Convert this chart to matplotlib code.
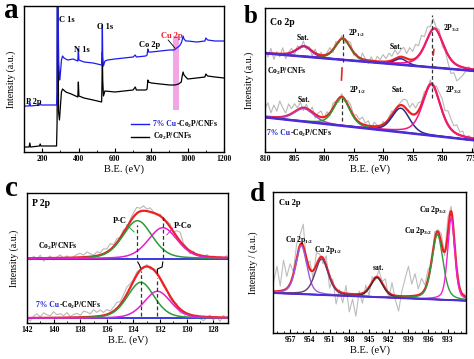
import numpy as np
import matplotlib.pyplot as plt

plt.rcParams['font.family'] = 'Liberation Serif'
plt.rcParams['font.weight'] = 'bold'
plt.rcParams['mathtext.fontset'] = 'custom'
plt.rcParams['mathtext.rm'] = 'Liberation Serif:bold'
plt.rcParams['mathtext.it'] = 'Liberation Serif:italic:bold'
plt.rcParams['mathtext.bf'] = 'Liberation Serif:bold'
plt.rcParams['axes.linewidth'] = 1.0

# ---------------- data ----------------
# (a) survey spectra, binding energy (eV) / intensity (a.u.)
blue_x = [100, 128, 132, 136, 185, 189, 193, 279, 282, 284, 287, 291, 296, 300, 306, 312, 320, 340,
          370, 396, 399, 402, 430, 480, 527, 529, 531, 533, 537, 545, 560, 600, 650, 700, 712, 718,
          770, 777, 781, 785, 800, 850, 900, 925, 940, 955, 965, 970, 975, 980, 990, 1000, 1050,
          1095, 1100, 1110, 1150, 1200]
blue_y = [46, 46, 50, 46, 47, 49, 47, 47, 60, 220, 150, 90, 72, 78, 92, 96, 94, 92,
          93, 91, 103, 92, 90, 89, 87, 100, 127, 95, 86, 91, 92, 93, 94, 95, 97, 95,
          96, 97, 103, 100, 100, 101, 102, 102, 104, 106, 109, 112, 116, 113, 111, 111, 110,
          111, 114, 112, 111, 111]
black_x = [100, 128, 132, 136, 185, 189, 193, 279, 282, 284, 287, 290, 295, 300, 306, 312, 330, 360,
           396, 399, 402, 430, 480, 527, 529, 531, 533, 537, 545, 600, 650, 700, 712, 718, 770,
           777, 781, 785, 800, 850, 900, 930, 950, 965, 970, 975, 980, 990, 1000, 1050, 1095,
           1100, 1110, 1150, 1200]
black_y = [5, 5, 9, 5, 6, 8, 6, 6, 30, 220, 150, 40, 32, 45, 60, 63, 60, 58,
           55, 70, 56, 54, 52, 50, 70, 100, 72, 56, 61, 60, 61, 62, 65, 62, 62,
           63, 72, 70, 69, 68, 67, 67, 68, 70, 76, 80, 77, 75, 73, 74, 75,
           78, 76, 75, 74]

# (b) Co 2p: [centre, height, fwhm, lorentz fraction]
co_top_base = [98.7, 81.3]
co_top_peaks = [[803.4, 10, 3.0, 0.4], [796.8, 21, 3.0, 0.4], [787.0, 6, 2.5, 0.3], [781.3, 39, 3.6, 0.5]]
co_bot_base = [34.7, 12.0]
co_bot_peaks = [[803.4, 13, 4.0, 0.4], [797.0, 28, 3.2, 0.4], [787.0, 24, 3.5, 0.3], [781.8, 51, 3.6, 0.5]]
co_colors = [['#c0189e', '#6b6b1e', '#2a2a8c', '#f0168a'], ['#b040c8', '#2f9a2f', '#2a2a8c', '#f0168a']]
co_top_dev = [3, -4, 5, -6, 2, -3, 6, -5, 1, 4, -4, 3, -2, 5, -3, 2, -5, 4, -2, 3, -4, 2, 5, -3,
              4, -2, 3, -4, 2, 5, -3, 2, -4, 6, 1, -3, 4, -2, 5, 2, 7, 3, 8, 4, 9, 3, 7, 10,
              5, 12, 8, 14, 10, 16, 9, 12, 6, 10, 2, 5, -4, -2, -8, -14, -10, -16, -12, -8, -3, 2, -2]
co_bot_dev = [8, 14, 4, 12, 6, 16, 9, 3, 11, 5, 8, 2, 6, -3, 4, -2, 5, -4, 3, 6, -1, 4, -3, 5,
              2, -4, 3, -2, 4, 6, 1, 5, 3, 7, 2, 5, -2, 4, 1, -3, 3, -2, 2, 4, -3, 1, 3, 7,
              9, 5, 11, 6, 8, 3, 5, -2, 4, -3, 6, 9, 12, 8, 14, 10, 6, 9, 3, 5, -4, 2, -1]

# (c) P 2p
p_top_base = 64.3
p_top_peaks = [[133.7, 38, 2.6, 0.3], [131.8, 31, 2.6, 0.3]]
p_bot_base = 4.7
p_bot_peaks = [[133.45, 36, 2.4, 0.3], [132.2, 27, 2.4, 0.3]]
p_colors = ['#2e9a3a', '#e020d0']
p_top_dev = [1, -2, 2, -1, 3, -3, 0, 2, -2, 1, 3, -1, 2, -2, 1, 3, 4, 2, 5, 3, 1, 4, 2, 5, 3, 6,
             2, 4, 1, 3, -1, 2, 4, 6, 3, 5, 2, 4, 1, -1, 2, -2, 1, 3, -1, 6, 9, 2, 1, -3, 2, -1,
             1, -2, 2, -1, 1, -2, 1, -1, 2]
p_bot_dev = [0, -3, 2, 4, 1, 5, 3, 2, 6, 3, 4, 2, 5, 1, 3, 4, 2, 6, 5, 3, 7, 4, 6, 3, 5, 2, 4,
             6, 3, 5, 7, 4, 2, 3, 1, -1, 2, -2, 1, 3, -1, -2, 1, -3, -1, 2, -4, -2, -5, -1, -3,
             1, -2, -4, -1, 2, -3, 1, -4, 2, -1]

# (d) Cu 2p
cu_base = [40.0, 32.3]
cu_peaks = [[955.3, 48.5, 2.0, 0.4], [952.2, 36, 2.4, 0.4], [943.8, 19.5, 2.2, 0.4],
            [934.6, 65, 2.0, 0.4], [932.5, 82, 1.3, 0.4]]
cu_colors = ['#9a5ae0', '#6a3a70', '#4a2a2a', '#2e9a3a', '#f020d8']
cu_dev = [10, 25, 5, 30, 12, 20, 2, 15, 10, 22, -5, 8, -8, 12, 4, -6, 10, -12, 5, -15, 2, -10,
          8, -18, -5, -22, 3, -10, 6, -8, 5, -3, 8, 2, 10, -6, 12, -4, -15, 5, 18, 30, 12, 22,
          6, 15, 4, 10, -5, 8, 2, 10, -4, 15, 5, -8, 6, -4, 2]

W, H = 474, 359
fig = plt.figure(figsize=(W / 100, H / 100), dpi=100)


def box(l, t, r, b):
    return [l / W, 1 - b / H, (r - l) / W, (b - t) / H]


def peak(x, c, h, w, eta):
    u = (x - c) / w
    return h * ((1 - eta) * np.exp(-4 * np.log(2) * u ** 2) + eta / (1 + 4 * u ** 2))


def lin(x, x0, x1, ends):
    return ends[0] + (ends[1] - ends[0]) * (x - x0) / (x1 - x0)


def style(ax, xlim, ylim, major, minor, ylabel, ylx):
    ax.set_xlim(*xlim)
    ax.set_ylim(*ylim)
    ax.set_yticks([])
    ax.set_xticks(major)
    ax.set_xticks(minor, minor=True)
    ax.tick_params(axis='x', which='major', direction='in', length=3, width=0.8, labelsize=5.5, pad=2)
    ax.tick_params(axis='x', which='minor', direction='in', length=1.5, width=0.6)
    ax.set_xlabel('B.E. (eV)', fontsize=7.5, labelpad=1)
    ax.set_ylabel(ylabel, fontsize=7)
    ax.yaxis.set_label_coords(ylx, 0.5)


def cu_label(ax, x, y, size=5.5):
    t = ax.text(x, y, '7% Cu', color='#2323d8', fontsize=size, va='baseline')
    ax.annotate('-Co$_{2}$P/CNFs', xy=(1, 0), xycoords=t, xytext=(0, 0.22 * size),
                textcoords='offset points', fontsize=size, va='baseline')


# ---------------- (a) ----------------
ax = fig.add_axes(box(24, 6, 224, 152))
ax.fill_between([917, 952], 42, 116, color='#f2a6e6', lw=0)
ax.plot(black_x, black_y, color='black', lw=0.9)
ax.plot(blue_x, blue_y, color='#1c1cf0', lw=0.9)
style(ax, (100, 1200), (0, 146), range(200, 1201, 200), range(100, 1201, 100),
      'Intensity (a.u.)', -0.04)
for s, x, y in [('C 1s', 290, 132), ('N 1s', 375, 102), ('O 1s', 500, 125),
                ('P 2p', 110, 50), ('Co 2p', 735, 107)]:
    ax.text(x, y, s, fontsize=6, va='center')
ax.text(855, 112, 'Cu 2p', fontsize=6, color='#e8202a', va='bottom')
ax.plot([893, 930], [112, 104], color='black', lw=0.6)
ax.plot([690, 790], [28, 28], color='#1c1cf0', lw=1)
ax.plot([690, 790], [15, 15], color='black', lw=1)
cu_label(ax, 808, 26, 5.5)
ax.text(808, 13, 'Co$_{2}$P/CNFs', fontsize=5.5, va='baseline')

# ---------------- (b) ----------------
ax = fig.add_axes(box(265, 8, 474, 152))
xb = np.linspace(810, 774.6, 700)
spec = [(co_top_base, co_top_peaks, co_top_dev, co_colors[0]),
        (co_bot_base, co_bot_peaks, co_bot_dev, co_colors[1])]
for base, peaks, dev, cols in spec:
    xg = np.linspace(810, 775, len(dev))
    yg = lin(xg, 810, 775, base) + sum(peak(xg, *p) for p in peaks) + np.array(dev)
    ax.plot(xg, yg, color='#b8b8b8', lw=0.8)
    bl = lin(xb, 810, 775, base)
    ax.plot(xb, bl + sum(peak(xb, *p) for p in peaks), color='#ee2020', lw=1.6)
    for p, c in zip(peaks, cols):
        ax.plot(xb, bl + peak(xb, *p), color=c, lw=1.1)
    ax.plot(xb, bl, color='#4a2cd8', lw=1.8)
ax.plot([796.8, 796.8], [90, 118], color='#333333', lw=0.9, ls=(0, (3, 2)))
ax.plot([797.0, 797.0], [31, 55], color='#333333', lw=0.9, ls=(0, (3, 2)))
ax.plot([796.95, 797.05], [84, 72], color='#ee2020', lw=1.2)
ax.plot([781.7, 781.7], [54, 137], color='#333333', lw=0.9, ls=(0, (3, 2)))
ax.plot([781.4, 781.5], [102.5, 97], color='#ee2020', lw=1.2)
style(ax, (810, 774.6), (0, 144), range(810, 774, -5), [], 'Intensity (a.u.)', -0.054)
ax.text(809.2, 130, 'Co 2p', fontsize=7, va='center')
for s, x, y in [('Sat.', 803.5, 114), ('Sat.', 787.8, 105), ('Sat.', 803.4, 52), ('Sat.', 787.5, 62)]:
    ax.text(x, y, s, fontsize=5.5, ha='center', va='center')
for x, y in [(796.0, 119), (779.9, 124), (795.8, 62), (779.5, 62)]:
    ax.text(x, y, '2P$_{1/2}$' if x > 790 else '2P$_{3/2}$', fontsize=5.5, va='center')
ax.text(809.7, 78, 'Co$_{2}$P/CNFs', fontsize=5.5, va='baseline')
cu_label(ax, 809.7, 17, 5.5)

# ---------------- (c) ----------------
ax = fig.add_axes(box(27, 193, 228, 323))
xc = np.linspace(142, 126.9, 600)
for base, peaks, dev in [(p_top_base, p_top_peaks, p_top_dev), (p_bot_base, p_bot_peaks, p_bot_dev)]:
    xg = np.linspace(142, 127, len(dev))
    yg = base + sum(peak(xg, *p) for p in peaks) + np.array(dev)
    ax.plot(xg, yg, color='#b8b8b8', lw=0.8)
    ax.plot(xc, np.full_like(xc, base), color='#3a3ae0', lw=1.4)
    ax.plot(xc, base + sum(peak(xc, *p) for p in peaks), color='#ee2020', lw=1.6)
    for p, c in zip(peaks, p_colors):
        ax.plot(xc, base + peak(xc, *p), color=c, lw=1.1)
for x, y0, y1 in [(133.7, 65, 98), (131.8, 65, 106), (133.45, 7, 52), (132.2, 7, 45)]:
    ax.plot([x, x], [y0, y1], color='#333333', lw=0.9, ls=(0, (3, 2)))
ax.plot([133.68, 133.55, 133.47], [61, 58, 55], color='black', lw=0.8)
ax.plot([131.8, 131.85, 132.2, 132.2], [61, 56, 54, 50], color='black', lw=0.8)
style(ax, (142, 126.9), (0, 130), range(142, 127, -2), range(141, 127, -2),
      'Intensity (a.u.)', -0.041)
ax.text(141.6, 120, 'P 2p', fontsize=7, va='center')
ax.text(135.0, 102, 'P-C', fontsize=6, ha='center', va='center')
ax.plot([134.5, 133.95], [98, 91], color='#2e9a3a', lw=0.7)
ax.text(131.0, 97, 'P-Co', fontsize=6, va='center')
ax.plot([131.05, 131.5], [95, 88], color='#e020d0', lw=0.7)
ax.text(141.2, 74, 'Co$_{2}$P/CNFs', fontsize=5.5, va='baseline')
cu_label(ax, 141.3, 16, 5.5)

# ---------------- (d) ----------------
ax = fig.add_axes(box(273, 192, 466, 333))
xd = np.linspace(959.6, 930.25, 700)
xg = np.linspace(959.5, 930.5, len(cu_dev))
yg = lin(xg, 959.6, 930.25, cu_base) + sum(peak(xg, *p) for p in cu_peaks) + np.array(cu_dev)
ax.plot(xg, yg, color='#bdbdbd', lw=0.8)
bl = lin(xd, 959.6, 930.25, cu_base)
ax.plot(xd, bl + sum(peak(xd, *p) for p in cu_peaks), color='#ee2020', lw=1.6)
for p, c in zip(cu_peaks, cu_colors):
    ax.plot(xd, bl + peak(xd, *p), color=c, lw=1.0)
ax.plot(xd, bl, color='#4a2cd8', lw=1.4)
style(ax, (959.6, 930.25), (0, 141), range(957, 930, -3), range(959, 930, -1),
      'Intensity / (a.u.)', -0.078)
ax.text(958.7, 130, 'Cu 2p', fontsize=6, va='center')
for s, x, y in [('Cu 2p$_{1/2}$', 955.6, 93), ('Cu 2p$_{1/2}$', 951.2, 83), ('sat.', 943.6, 65),
                ('Cu 2p$_{3/2}$', 937.5, 102), ('Cu 2p$_{3/2}$', 935.2, 123)]:
    ax.text(x, y, s, fontsize=5.5, ha='center', va='center')

# panel letters
for s, x, y, fs in [('a', 4, 18, 21), ('b', 244, 23, 18), ('c', 5, 196, 21), ('d', 250, 201, 19.5)]:
    fig.text(x / W, 1 - y / H, s, fontsize=fs, va='baseline')

fig.savefig('out.png', dpi=100)
